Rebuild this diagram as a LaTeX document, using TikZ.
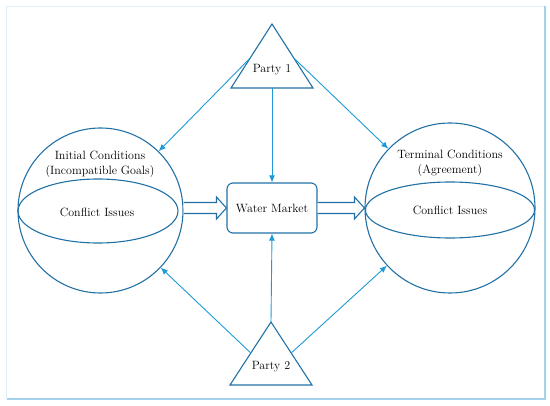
\documentclass[tikz,border=0pt]{standalone}
\usetikzlibrary{arrows.meta,shapes.geometric,calc}
\definecolor{dblue}{HTML}{2171A6}
\definecolor{lblue}{HTML}{1E9AD6}
\definecolor{frameA}{HTML}{DDEFF8}
\definecolor{frameB}{HTML}{A6D2EE}
\begin{document}
\begin{tikzpicture}[x=1pt,y=-1pt,
  txt/.style={font=\fontsize{12}{15}\selectfont, text=black, inner sep=0pt, align=center},
  bigcirc/.style={circle, draw=dblue, line width=1.1pt, inner sep=0pt},
  inell/.style={ellipse, draw=dblue, line width=1.1pt, inner sep=0pt},
  tri/.style={draw=dblue, line width=1.1pt, line join=miter},
  conn/.style={draw=lblue, line width=0.9pt, -{Latex[length=7pt,width=6pt]}},
  blockarr/.style={draw=dblue, line width=1.1pt, fill=white, line join=miter},
  wbox/.style={draw=dblue, line width=1.1pt, rounded corners=6pt, minimum width=90pt, minimum height=50pt, inner sep=0pt}
]
\useasboundingbox (0,0) rectangle (550,406);
% frame
\draw[frameA, line width=1.2pt] (6.5,399) -- (6.5,6.5) -- (545,6.5);
\draw[frameB, line width=1.6pt] (545,6.5) -- (545,399) -- (6.5,399);

% circles
\node[bigcirc, minimum size=165pt] (L) at (100.5,210.5) {};
\node[inell, minimum width=160pt, minimum height=64pt] (Le) at (98,211) {};
\node[txt] (Lt) at (100,164.5) {Initial Conditions\\(Incompatible Goals)};
\node[txt] (Lc) at (97,212) {Conflict Issues};

\node[bigcirc, minimum size=170pt] (R) at (450,208) {};
\node[inell, minimum width=169pt, minimum height=56pt] (Re) at (450,210) {};
\node[txt] (Rt) at (450,163) {Terminal Conditions\\(Agreement)};
\node[txt] (Rc) at (450,210) {Conflict Issues};

% water market
\node[wbox] (W) at (272,208) {};
\node[txt] (Wt) at (272,208) {Water Market};

% triangles
\coordinate (P1a) at (272,24);
\coordinate (P1l) at (231,88);
\coordinate (P1r) at (313,88);
\coordinate (P1b) at (272,88);
\coordinate (P1L) at (250.2,58);
\coordinate (P1R) at (293.8,58);
\draw[tri] (P1a) -- (P1l) -- (P1r) -- cycle;
\node[txt] (P1) at (272,70) {Party 1};

\coordinate (P2a) at (271,322);
\coordinate (P2l) at (230,385);
\coordinate (P2r) at (312,385);
\coordinate (P2L) at (250.8,353);
\coordinate (P2R) at (291.2,353);
\draw[tri] (P2a) -- (P2l) -- (P2r) -- cycle;
\node[txt] (P2) at (271,367) {Party 2};

% connectors
\draw[conn] (P1L) -- (L);
\draw[conn] (P1R) -- (R);
\draw[conn] (P1b) -- (W.north);
\draw[conn] (P2L) -- (L);
\draw[conn] (P2R) -- (R);
\draw[conn] (P2a) -- (W.south);

% block arrows
\coordinate (A1s) at (L.east |- W.west);
\coordinate (A1e) at (W.west);
\draw[blockarr] ($(A1s)+(0,-5.5)$) -- ($(A1e)+(-10,-5.5)$) -- ($(A1e)+(-10,-11)$) -- (A1e)
  -- ($(A1e)+(-10,11)$) -- ($(A1e)+(-10,5.5)$) -- ($(A1s)+(0,5.5)$);
\coordinate (A2s) at (W.east);
\coordinate (A2e) at (R.west |- W.east);
\draw[blockarr] ($(A2s)+(0,-5.5)$) -- ($(A2e)+(-10,-5.5)$) -- ($(A2e)+(-10,-11)$) -- (A2e)
  -- ($(A2e)+(-10,11)$) -- ($(A2e)+(-10,5.5)$) -- ($(A2s)+(0,5.5)$);
\end{tikzpicture}
\end{document}
